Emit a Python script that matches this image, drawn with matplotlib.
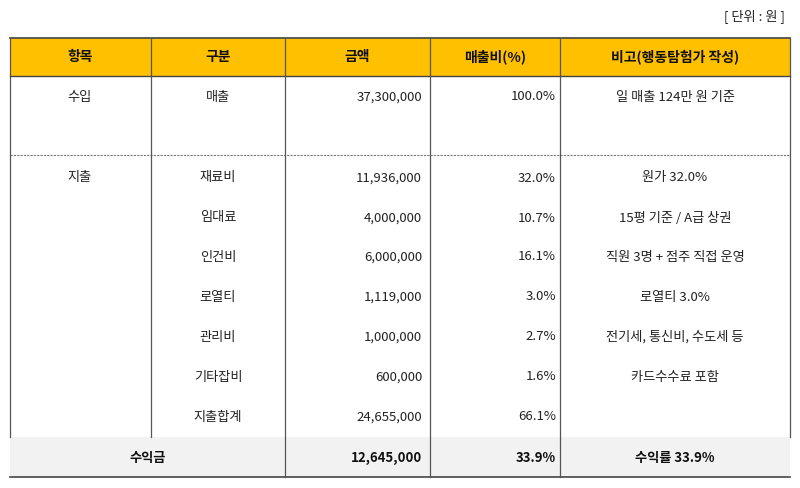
import matplotlib
matplotlib.use("Agg")
import matplotlib.pyplot as plt
from matplotlib.patches import Rectangle

plt.rcParams["font.family"] = ["Noto Sans CJK JP", "Noto Sans CJK SC", "Noto Sans CJK KR", "DejaVu Sans"]

headers = ["항목", "구분", "금액", "매출비(%)", "비고(행동탐험가 작성)"]
groups = ["수입", "지출", "", "", "", "", "", ""]
items = ["매출", "재료비", "임대료", "인건비", "로열티", "관리비", "기타잡비", "지출합계"]
amounts = [37300000, 11936000, 4000000, 6000000, 1119000, 1000000, 600000, 24655000]
ratios = [100.0, 32.0, 10.7, 16.1, 3.0, 2.7, 1.6, 66.1]
notes = ["일 매출 124만 원 기준", "원가 32.0%", "15평 기준 / A급 상권", "직원 3명 + 점주 직접 운영",
         "로열티 3.0%", "전기세, 통신비, 수도세 등", "카드수수료 포함", ""]
total_label = "수익금"
total_amount = 12645000
total_ratio = 33.9
total_note = "수익률 33.9%"
unit = "[ 단위 : 원 ]"

fig = plt.figure(figsize=(8, 4.88), dpi=100)
ax = fig.add_axes([0, 0, 1, 1])
ax.set_xlim(0, 800); ax.set_ylim(488, 0); ax.axis("off")

cols = [10, 151, 285, 430, 560, 790]
top, hb = 38, 76
row_y = [97, 178, 218, 257, 297, 337, 377, 417]
gy0, gy1 = 437, 477
lc = "#555555"

ax.add_patch(Rectangle((10, top), 780, hb - top, facecolor="#FFC000", edgecolor="none"))
ax.add_patch(Rectangle((10, gy0), 780, gy1 - gy0, facecolor="#F2F2F2", edgecolor="none"))
ax.plot([10, 790], [top, top], color="#444", lw=1.2)
ax.plot([10, 790], [hb, hb], color="#444", lw=1.0)
ax.plot([10, 790], [gy1, gy1], color="#444", lw=1.2)
ax.plot([10, 790], [155, 155], color="#777", lw=0.8, ls=(0, (2, 1)))
for i, x in enumerate(cols):
    yb = gy0 if i in (0, 1, 5) else gy1
    ax.plot([x, x], [top, yb], color=lc, lw=0.9)

ax.text(785, 16, unit, ha="right", va="center", fontsize=9.5, color="#222")
for i, h in enumerate(headers):
    ax.text((cols[i] + cols[i + 1]) / 2, 57, h, ha="center", va="center", fontsize=10, fontweight="bold", color="#111")

fs = 9.5
for i, y in enumerate(row_y):
    if groups[i]:
        ax.text(80, y, groups[i], ha="center", va="center", fontsize=fs, color="#222")
    ax.text(218, y, items[i], ha="center", va="center", fontsize=fs, color="#222")
    ax.text(422, y, f"{amounts[i]:,}", ha="right", va="center", fontsize=fs, color="#222")
    ax.text(556, y, f"{ratios[i]:.1f}%", ha="right", va="center", fontsize=fs, color="#222")
    if notes[i]:
        ax.text(675, y, notes[i], ha="center", va="center", fontsize=fs, color="#222")

ty = 458
ax.text(148, ty, total_label, ha="center", va="center", fontsize=fs, fontweight="bold", color="#111")
ax.text(422, ty, f"{total_amount:,}", ha="right", va="center", fontsize=fs, fontweight="bold", color="#111")
ax.text(556, ty, f"{total_ratio:.1f}%", ha="right", va="center", fontsize=fs, fontweight="bold", color="#111")
ax.text(675, ty, total_note, ha="center", va="center", fontsize=fs, fontweight="bold", color="#111")

fig.savefig("out.png", dpi=100)
